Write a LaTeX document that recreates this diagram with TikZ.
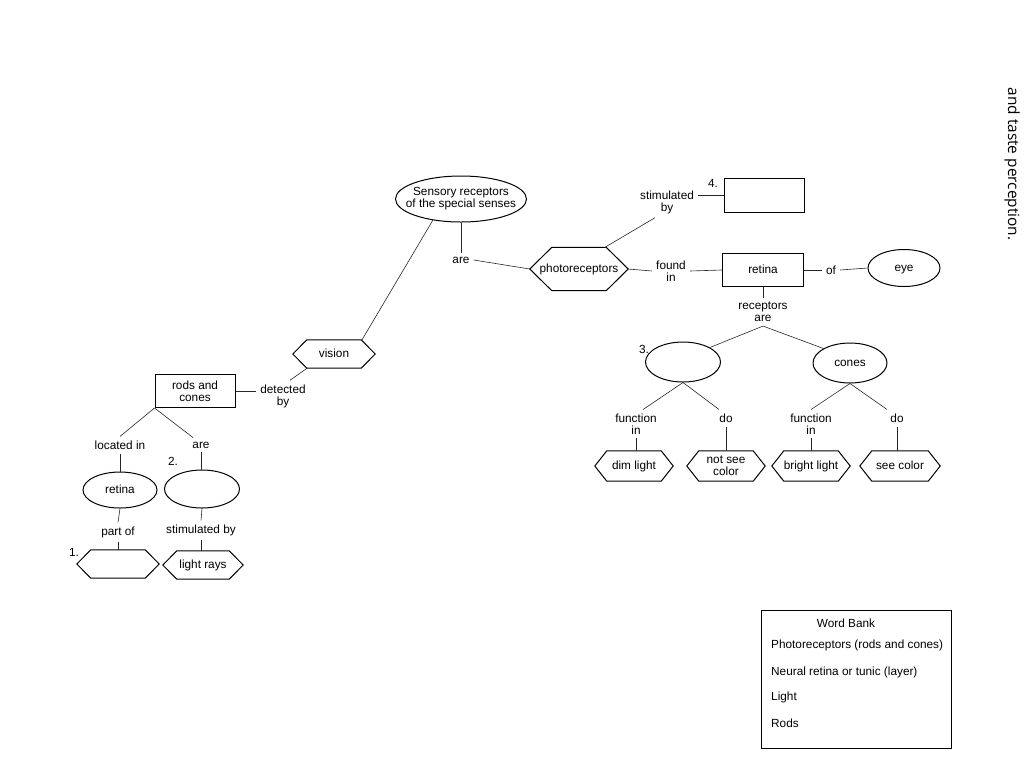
\documentclass[tikz,border=0pt]{standalone}
\usepackage{fontspec}
\setmainfont{Liberation Sans}
\newfontfamily\sidefont{Open Sans}
\usetikzlibrary{shapes.geometric, calc}
\tikzset{
  box/.style={
    draw, line width=1pt, minimum width=81pt, minimum height=33pt,
    inner sep=2pt, align=center
  },
  oval/.style={draw, ellipse, line width=1pt, inner sep=1pt, align=center},
  hexa/.style={
    rectangle, inner sep=1pt, minimum width=80pt, minimum height=30pt, align=center
  },
  oneline/.style={text height=8pt, text depth=1pt},
  hexline/.style={line width=1pt},
  lbl/.style={inner sep=4pt, align=center},
  link/.style={line width=0.6pt, black!85}
}

\begin{document}
\begin{tikzpicture}[x=1pt, y=-1pt, font=\fontsize{11.8}{12}\selectfont]
  \useasboundingbox (0,0) rectangle (1024,780);

  % upper branch
  \node[oval, inner xsep=-12pt, minimum width=131pt, minimum height=46pt] (sens) at (461,199)
    {Sensory receptors\\of the special senses};
  \node[lbl] (are1) at (461,260) {are};
  \node[hexa, oneline, minimum width=98pt, minimum height=43pt] (photo) at (579,269) {photoreceptors};
  \node[lbl] (stim) at (667,202) {stimulated\\by};
  \node[box, minimum width=80pt, minimum height=34pt] (ans4) at (764,195) {};
  \node[lbl] (num4) at (713,183) {4.};
  \node[lbl] (found) at (671,271) {found\\in};
  \node[box, oneline] (retina) at (763,270) {retina};
  \node[lbl] (of) at (831,270) {of};
  \node[oval, oneline, minimum width=72pt, minimum height=37pt] (eye) at (904,268) {eye};
  \node[lbl] (recep) at (763,312) {receptors\\are};
  \node[oval, minimum width=75pt, minimum height=40pt] (ans3) at (683,362) {};
  \node[lbl] (num3) at (644,349) {3.};
  \node[oval, oneline, minimum width=74pt, minimum height=40pt] (cones) at (850,363) {cones};
  \node[lbl] (fnA) at (636,424) {function\\in};
  \node[lbl] (doA) at (726,418) {do};
  \node[lbl] (fnB) at (811,424) {function\\in};
  \node[lbl] (doB) at (897,418) {do};
  \node[hexa, oneline, minimum width=78pt] (dim) at (634,466) {dim light};
  \node[hexa, minimum width=78pt] (nosee) at (726,466) {not see\\color};
  \node[hexa, oneline, minimum width=78pt] (bright) at (811,466) {bright light};
  \node[hexa, oneline] (seecol) at (900,466) {see color};

  % lower branch
  \node[hexa, oneline, minimum width=82pt, minimum height=28pt] (vision) at (334,354) {vision};
  \node[lbl] (detby) at (283,396) {detected\\by};
  \node[box, minimum width=80pt] (rac) at (195,391) {rods and\\cones};
  \node[lbl] (locin) at (120,445) {located in};
  \node[lbl] (are2) at (201,445) {are};
  \node[lbl] (num2) at (173,461) {2.};
  \node[oval, oneline, minimum width=74pt, minimum height=36pt] (ret2) at (120,490) {retina};
  \node[oval, minimum width=75pt, minimum height=38pt] (ans2) at (202,489) {};
  \node[lbl] (partof) at (118,532) {part of};
  \node[lbl] (stimby) at (201,530) {stimulated by};
  \node[lbl] (num1) at (74,552) {1.};
  \node[hexa, minimum width=82pt, minimum height=28pt] (ans1) at (118,564) {};
  \node[hexa, oneline, minimum height=28pt] (rays) at (203,565) {light rays};

  % hexagon outlines
  \foreach \n/\t in {photo/22, vision/14, ans1/14, rays/14,
                     dim/12, nosee/12, bright/12, seecol/12}
    \draw[hexline] (\n.west) -- ([xshift=\t pt]\n.north west) -- ([xshift=-\t pt]\n.north east)
      -- (\n.east) -- ([xshift=-\t pt]\n.south east) -- ([xshift=\t pt]\n.south west) -- cycle;

  % connectors
  \draw[link] (sens.south) -- (are1.north);
  \draw[link] (are1.east) -- (photo.west);
  \draw[link] (sens.217) -- ([xshift=28pt]vision.north);
  \draw[link] ([xshift=26pt]photo.north) -- ([xshift=-12pt]stim.south);
  \draw[link] (stim.east |- ans4.west) -- (ans4.west);
  \draw[link] (photo.east) -- (found.west);
  \draw[link] (found.east) -- (retina.west);
  \draw[link] (retina.east) -- (of.west);
  \draw[link] (of.east) -- (eye.west);
  \draw[link] (retina.south) -- (recep.north);
  \draw[link] (recep.south) -- (ans3.north east);
  \draw[link] (recep.south) -- (cones.north west);
  \draw[link] (ans3.south) -- ([xshift=7pt]fnA.north);
  \draw[link] (ans3.south) -- ([xshift=-7pt]doA.north);
  \draw[link] (cones.south) -- (fnB.north);
  \draw[link] (cones.south) -- ([xshift=-10pt]doB.north);
  \draw[link] (fnA.south) -- (fnA.south |- dim.north);
  \draw[link] (doA.south) -- (nosee.north);
  \draw[link] (fnB.south) -- (bright.north);
  \draw[link] (doB.south) -- (doB.south |- seecol.north);
  \draw[link] ([xshift=-27pt]vision.south) -- ([xshift=7pt]detby.north);
  \draw[link] (rac.east) -- (rac.east -| detby.west);
  \draw[link] (rac.south west) -- (locin.north);
  \draw[link] (rac.south west) -- ([xshift=-8pt]are2.north);
  \draw[link] (locin.south) -- (locin.south |- ret2.north);
  \draw[link] (are2.south) -- (are2.south |- ans2.north);
  \draw[link] (ret2.south) -- (partof.north);
  \draw[link] (partof.south) -- (partof.south |- ans1.north);
  \draw[link] (ans2.south) -- (stimby.north);
  \draw[link] (stimby.south) -- (stimby.south |- rays.north);

  % word bank
  \node[draw, line width=1pt, minimum width=190pt, minimum height=138pt] (bank) at (856,679) {};
  \node (bankhead) at (846,623) {Word Bank};
  \node[anchor=west, inner sep=0pt] (w1) at (771,645) {Photoreceptors (rods and cones)};
  \node[anchor=west, inner sep=0pt] (w2) at (771,672) {Neural retina or tunic (layer)};
  \node[anchor=west, inner sep=0pt] (w3) at (771,697) {Light};
  \node[anchor=west, inner sep=0pt] (w4) at (771,723) {Rods};

  \node[rotate=-90, font=\sidefont\fontsize{15.4}{16}\selectfont] (side) at (1012,164)
    {and taste perception.};
\end{tikzpicture}
\end{document}
